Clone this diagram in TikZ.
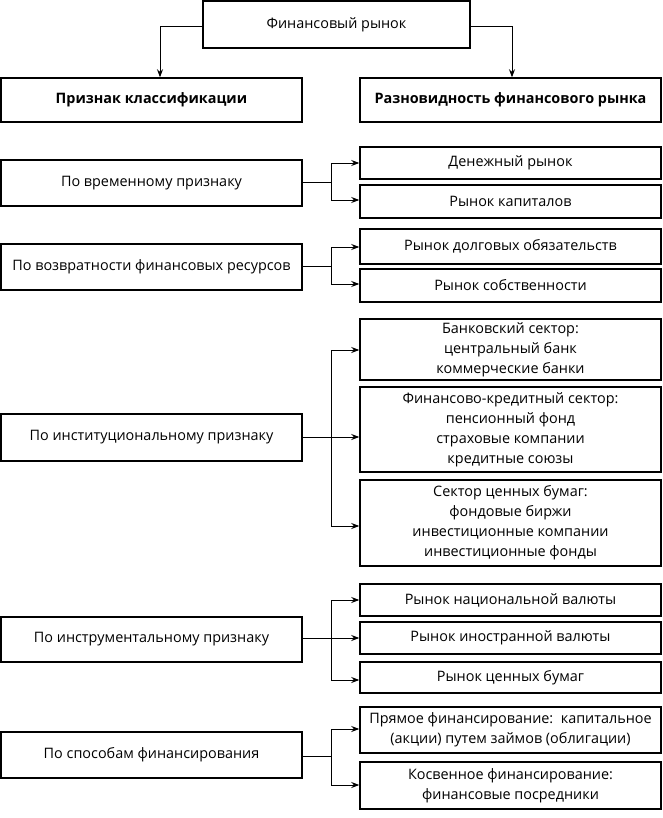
\documentclass[tikz,border=0pt]{standalone}
\usepackage{fontspec}
\setmainfont{Open Sans}
\usetikzlibrary{arrows.meta}
\tikzset{
  box/.style={draw, line width=1.1pt, inner sep=0pt, align=center, font=\fontsize{10.8}{15}\selectfont},
  conn/.style={line width=0.7pt},
  arr/.style={conn, -{Stealth[length=6pt,width=4.5pt]}}
}
\newcommand{\bx}[6]{\node[box, minimum width={(#4-#2)*0.75pt}, minimum height={(#5-#3)*0.75pt}] (#1) at ({(#2+#4)/2},{(#3+#5)/2}) {#6};}
\begin{document}
\begin{tikzpicture}[x=0.75pt,y=-0.75pt]
\useasboundingbox (0,0) rectangle (663,818);
\bx{top}{203}{1}{470}{48}{Финансовый рынок}
\bx{h1}{1}{78}{302}{122}{\bfseries Признак классификации}
\bx{h2}{360}{78}{661}{122}{\bfseries Разновидность финансового рынка}
% row 1
\bx{l1}{1}{160}{302}{206}{По временному признаку}
\bx{r11}{360}{147}{661}{179}{Денежный рынок}
\bx{r12}{360}{185}{661}{218}{Рынок капиталов}
% row 2
\bx{l2}{1}{244}{302}{290}{По возвратности финансовых ресурсов}
\bx{r21}{360}{229}{661}{264}{Рынок долговых обязательств}
\bx{r22}{360}{269}{661}{302}{Рынок собственности}
% row 3
\bx{l3}{1}{414}{302}{461}{По институциональному признаку}
\bx{r31}{360}{319}{661}{380}{Банковский сектор:\\центральный банк\\коммерческие банки}
\bx{r32}{360}{387}{661}{472}{Финансово-кредитный сектор:\\пенсионный фонд\\страховые компании\\кредитные союзы}
\bx{r33}{360}{480}{661}{566}{Сектор ценных бумаг:\\фондовые биржи\\инвестиционные компании\\инвестиционные фонды}
% row 4
\bx{l4}{1}{617}{302}{662}{По инструментальному признаку}
\bx{r41}{360}{584}{661}{616}{Рынок национальной валюты}
\bx{r42}{360}{622}{661}{654}{Рынок иностранной валюты}
\bx{r43}{360}{662}{661}{693}{Рынок ценных бумаг}
% row 5
\bx{l5}{1}{732}{302}{778}{По способам финансирования}
\bx{r51}{360}{707}{661}{753}{Прямое финансирование:\ \ капитальное\\(акции) путем займов (облигации)}
\bx{r52}{360}{762}{661}{809}{Косвенное финансирование:\\финансовые посредники}
% top arrows
\draw[arr] ([yshift=-1.5pt]top.west) -| (h1.north -| 160,0);
\draw[arr] ([yshift=-1.5pt]top.east) -| (h2.north -| 512,0);
% row connectors
\coordinate (j1) at (331,182);
\draw[conn] (l1.east |- j1) -- (j1);
\draw[arr] (j1) |- (r11.west |- 0,163);
\draw[arr] (j1) |- (r12.west |- 0,200);
\coordinate (j2) at (331,266);
\draw[conn] (l2.east |- j2) -- (j2);
\draw[arr] (j2) |- (r21.west |- 0,247);
\draw[arr] (j2) |- (r22.west |- 0,284);
\coordinate (j3) at (331,437);
\draw[conn] (l3.east |- j3) -- (j3);
\draw[arr] (j3) |- (r31.west |- 0,350);
\draw[arr] (j3) -- (r32.west |- j3);
\draw[arr] (j3) |- (r33.west |- 0,526);
\coordinate (j4) at (331,638);
\draw[conn] (l4.east |- j4) -- (j4);
\draw[arr] (j4) |- (r41.west |- 0,600);
\draw[arr] (j4) -- (r42.west |- j4);
\draw[arr] (j4) |- (r43.west |- 0,680);
\coordinate (j5) at (331,756);
\draw[conn] (l5.east |- j5) -- (j5);
\draw[arr] (j5) |- (r51.west |- 0,729);
\draw[arr] (j5) |- (r52.west |- 0,785);
\end{tikzpicture}
\end{document}
